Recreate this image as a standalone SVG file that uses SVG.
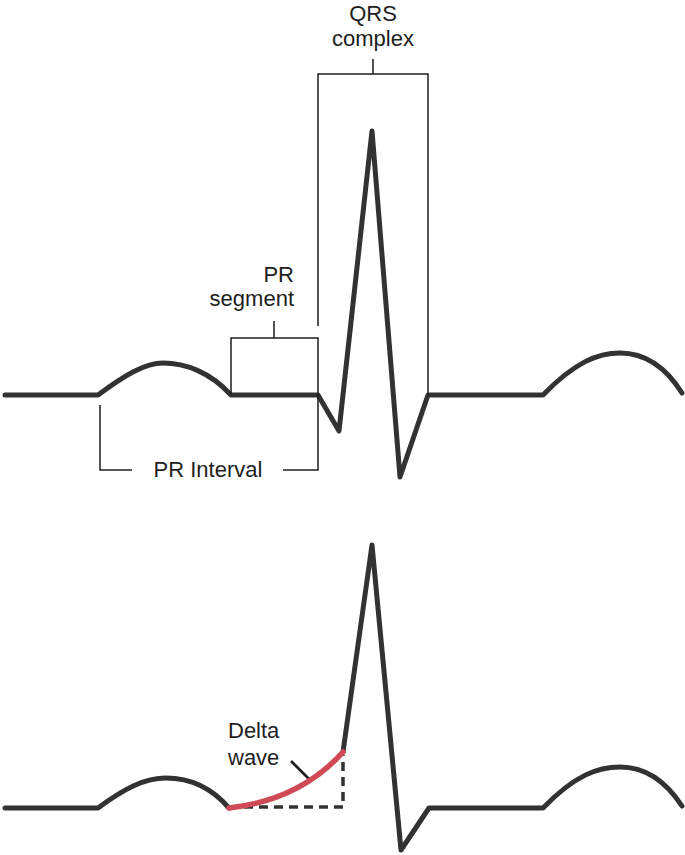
<svg xmlns="http://www.w3.org/2000/svg" width="685" height="855" viewBox="0 0 685 855">
<style>
.trace{fill:none;stroke:#323232;stroke-width:5;stroke-linejoin:round;stroke-linecap:round}
.br{fill:none;stroke:#1e1e1e;stroke-width:1.5}
.lbl{font-family:"Liberation Sans",Arial,sans-serif;font-size:22px;fill:#1e1e1e}
</style>
<rect width="685" height="855" fill="#fff"/>
<g id="top-trace">
<path class="trace" d="M5,395 H98 C125,375 145,363 163,363 C185,363 210,372 231,395 H318 L339,431 L372,131 L400,477 L428,395 H543 C575,362 598,353 620,353 C645,353 665,366 682,393"/>
</g>
<g id="connectors">
<path class="br" d="M318,326 V74 H428 V395 M373,74 V59"/>
<path class="br" d="M231,395 V338 H318 V470 H283 M274,338 V321"/>
<path class="br" d="M100,405 V470 H132"/>
<path class="lead" d="M291,761 L311,781" stroke="#1e1e1e" stroke-width="2.7" fill="none"/>
</g>
<g id="qrs-label">
<text class="lbl" x="373" y="21" text-anchor="middle">QRS</text>
<text class="lbl" x="373" y="46" text-anchor="middle">complex</text>
</g>
<g id="pr-segment-label">
<text class="lbl" x="294" y="282" text-anchor="end">PR</text>
<text class="lbl" x="294" y="306" text-anchor="end">segment</text>
</g>
<g id="pr-interval-label">
<text class="lbl" x="208" y="477" text-anchor="middle">PR Interval</text>
</g>
<g id="bottom-trace">
<path class="trace" d="M5,808 H98 C125,788 145,778 166,778 C188,778 210,786 229,808"/>
<path class="trace" d="M343,752 L372,545 L401,850 L429,808 H543 C575,775 598,767 620,767 C645,767 665,780 682,806"/>
<path d="M229,807 H343 V755" fill="none" stroke="#323232" stroke-width="3.5" stroke-dasharray="9 6"/>
<path d="M229,808 Q300,800 343,752" fill="none" stroke="#cf4a56" stroke-width="5.5" stroke-linecap="round"/>
</g>
<g id="delta-label">
<text class="lbl" x="228" y="738">Delta</text>
<text class="lbl" x="228" y="765">wave</text>
</g>
</svg>
